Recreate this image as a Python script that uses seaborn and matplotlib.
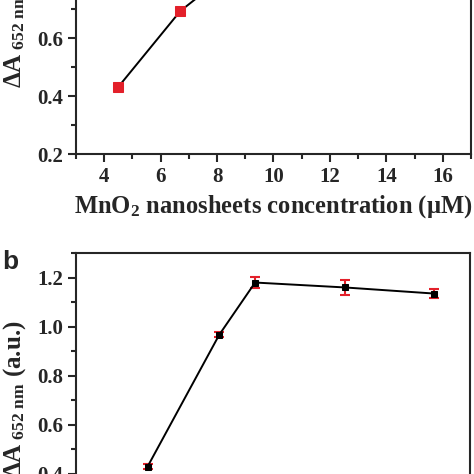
import matplotlib
matplotlib.use("Agg")
import matplotlib.pyplot as plt
import seaborn as sns
import pandas as pd
from matplotlib.ticker import MultipleLocator

# ---- data ----
conc_a = [4.5, 6.7, 9.0]
dA_a = [0.431, 0.693, 0.87]

x_b = [2, 4, 5, 7.5, 10]
dA_b = [0.429, 0.967, 1.180, 1.160, 1.135]
err_b = [0.010, 0.010, 0.022, 0.030, 0.018]

xlabel_a = "MnO$_2$ nanosheets concentration (μM)"
ylabel = "ΔA$_{\\ 652\\ nm}$ (a.u.)"

sns.set_style("ticks")
plt.rcParams.update({
    "font.family": ["Liberation Serif", "DejaVu Serif"],
    "font.weight": "bold",
    "mathtext.fontset": "custom",
    "mathtext.rm": "Liberation Serif:bold",
    "mathtext.bf": "Liberation Serif:bold",
    "mathtext.it": "Liberation Serif:bold",
    "mathtext.default": "regular",
    "axes.linewidth": 1.5,
    "xtick.major.width": 1.5, "ytick.major.width": 1.5,
    "xtick.minor.width": 1.5, "ytick.minor.width": 1.5,
    "xtick.major.size": 6, "ytick.major.size": 6,
    "xtick.minor.size": 3.5, "ytick.minor.size": 3.5,
    "xtick.direction": "out", "ytick.direction": "out",
})

RED = "#e3202a"
fig = plt.figure(figsize=(4.74, 4.74), dpi=100)

# ---- panel a ----
ax1 = fig.add_axes([0.160, 0.675, 0.834, 0.612])
df_a = pd.DataFrame({"x": conc_a, "y": dA_a})
sns.lineplot(data=df_a, x="x", y="y", ax=ax1, color="black", lw=1.4,
             marker="s", markersize=6.5, markerfacecolor=RED, markeredgecolor=RED)
ax1.set_xlim(3, 17)
ax1.set_ylim(0.2, 1.2)
ax1.xaxis.set_major_locator(MultipleLocator(2))
ax1.xaxis.set_minor_locator(MultipleLocator(1))
ax1.yaxis.set_major_locator(MultipleLocator(0.2))
ax1.yaxis.set_minor_locator(MultipleLocator(0.1))
ax1.yaxis.set_major_formatter(matplotlib.ticker.FormatStrFormatter("%.1f"))
ax1.tick_params(labelsize=15, pad=3)
ax1.set_xlabel(xlabel_a, fontsize=17.7, fontweight="bold", labelpad=5)
ax1.set_ylabel(ylabel, fontsize=18, fontweight="bold")
ax1.yaxis.set_label_coords(-0.122, 0.5)
for s in ax1.spines.values():
    s.set_visible(True)

# ---- panel b ----
ax2 = fig.add_axes([0.160, -0.103, 0.832, 0.569])
df_b = pd.DataFrame({"x": x_b, "y": dA_b})
ax2.errorbar(x_b, dA_b, yerr=err_b, fmt="none", ecolor=RED, elinewidth=1.5,
             capsize=3.5, capthick=1.5, zorder=2)
sns.lineplot(data=df_b, x="x", y="y", ax=ax2, color="black", lw=1.4,
             marker="s", markersize=5, markerfacecolor="black",
             markeredgecolor="black", zorder=3)
ax2.set_xlim(0, 11)
ax2.set_ylim(0.2, 1.3)
ax2.yaxis.set_major_locator(MultipleLocator(0.2))
ax2.yaxis.set_minor_locator(MultipleLocator(0.1))
ax2.yaxis.set_major_formatter(matplotlib.ticker.FormatStrFormatter("%.1f"))
ax2.tick_params(labelsize=15, pad=3)
ax2.set_xlabel("")
ax2.set_ylabel(ylabel, fontsize=18, fontweight="bold")
ax2.yaxis.set_label_coords(-0.122, 0.46)
for s in ax2.spines.values():
    s.set_visible(True)

fig.text(0.005, 0.447, "b", fontsize=19, fontweight="bold",
         family=["Liberation Sans", "DejaVu Sans"], ha="left", va="center")

fig.savefig("out.png", dpi=100)
